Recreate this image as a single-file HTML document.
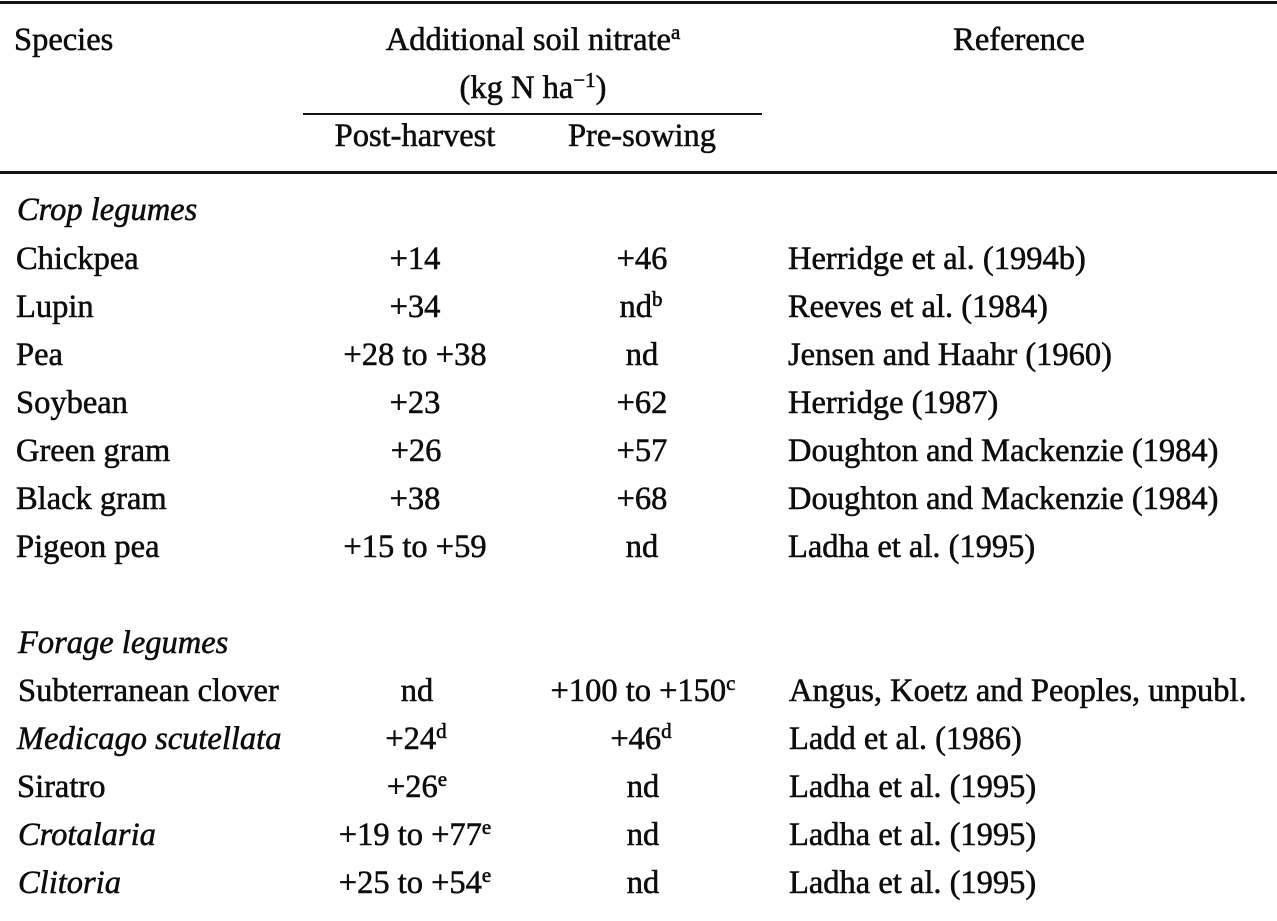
<!DOCTYPE html>
<html>
<head>
<meta charset="utf-8">
<style>
  html, body { margin:0; padding:0; background:#ffffff; }
  svg { display:block; }
  text { font-family: "Liberation Serif", "Times New Roman", serif; }
</style>
</head>
<body>
<svg width="1277" height="921" viewBox="0 0 1277 921" xmlns="http://www.w3.org/2000/svg">
  <rect x="0" y="0" width="1277" height="921" fill="#ffffff"/>
  <!-- rules -->
  <rect x="0" y="1" width="1277" height="3" fill="#141414"/>
  <rect x="303" y="113" width="459" height="2" fill="#141414"/>
  <rect x="0" y="171" width="1277" height="3" fill="#141414"/>

  <g fill="#0d0d0d" font-size="32.5" stroke="#0d0d0d" stroke-width="0.55">
    <!-- header -->
    <text x="14" y="50">Species</text>
    <text x="533" y="50" text-anchor="middle">Additional soil nitrate<tspan font-size="21" dy="-11">a</tspan></text>
    <text x="533" y="98" text-anchor="middle">(kg N ha<tspan font-size="21" dy="-11">−1</tspan><tspan dy="11">)</tspan></text>
    <text x="1019" y="50" text-anchor="middle">Reference</text>
    <text x="415" y="146" text-anchor="middle">Post-harvest</text>
    <text x="642" y="146" text-anchor="middle">Pre-sowing</text>

    <!-- Crop legumes -->
    <text x="17" y="220" font-style="italic">Crop legumes</text>

    <text x="16" y="269">Chickpea</text>
    <text x="415" y="269" text-anchor="middle">+14</text>
    <text x="642" y="269" text-anchor="middle">+46</text>
    <text x="788" y="269">Herridge et al. (1994b)</text>

    <text x="16" y="317">Lupin</text>
    <text x="415" y="317" text-anchor="middle">+34</text>
    <text x="641" y="317" text-anchor="middle">nd<tspan font-size="21" dy="-11">b</tspan></text>
    <text x="788" y="317">Reeves et al. (1984)</text>

    <text x="16" y="365">Pea</text>
    <text x="415" y="365" text-anchor="middle">+28 to +38</text>
    <text x="642" y="365" text-anchor="middle">nd</text>
    <text x="788" y="365">Jensen and Haahr (1960)</text>

    <text x="16" y="413">Soybean</text>
    <text x="415" y="413" text-anchor="middle">+23</text>
    <text x="642" y="413" text-anchor="middle">+62</text>
    <text x="788" y="413">Herridge (1987)</text>

    <text x="16" y="461">Green gram</text>
    <text x="416" y="461" text-anchor="middle">+26</text>
    <text x="642" y="461" text-anchor="middle">+57</text>
    <text x="788" y="461">Doughton and Mackenzie (1984)</text>

    <text x="16" y="509">Black gram</text>
    <text x="415" y="509" text-anchor="middle">+38</text>
    <text x="642" y="509" text-anchor="middle">+68</text>
    <text x="788" y="509">Doughton and Mackenzie (1984)</text>

    <text x="16" y="557">Pigeon pea</text>
    <text x="415" y="557" text-anchor="middle">+15 to +59</text>
    <text x="642" y="557" text-anchor="middle">nd</text>
    <text x="788" y="557">Ladha et al. (1995)</text>

    <!-- Forage legumes -->
    <text x="18" y="653" font-style="italic">Forage legumes</text>

    <text x="18" y="701">Subterranean clover</text>
    <text x="417" y="701" text-anchor="middle">nd</text>
    <text x="643" y="701" text-anchor="middle">+100 to +150<tspan font-size="21" dy="-11">c</tspan></text>
    <text x="789" y="701">Angus, Koetz and Peoples, unpubl.</text>

    <text x="17" y="749" font-style="italic">Medicago scutellata</text>
    <text x="416" y="749" text-anchor="middle">+24<tspan font-size="21" dy="-11">d</tspan></text>
    <text x="641" y="749" text-anchor="middle">+46<tspan font-size="21" dy="-11">d</tspan></text>
    <text x="789" y="749">Ladd et al. (1986)</text>

    <text x="17" y="797">Siratro</text>
    <text x="417" y="797" text-anchor="middle">+26<tspan font-size="21" dy="-11">e</tspan></text>
    <text x="643" y="797" text-anchor="middle">nd</text>
    <text x="789" y="797">Ladha et al. (1995)</text>

    <text x="18" y="845" font-style="italic">Crotalaria</text>
    <text x="415" y="845" text-anchor="middle">+19 to +77<tspan font-size="21" dy="-11">e</tspan></text>
    <text x="643" y="845" text-anchor="middle">nd</text>
    <text x="789" y="845">Ladha et al. (1995)</text>

    <text x="18" y="893" font-style="italic">Clitoria</text>
    <text x="415" y="893" text-anchor="middle">+25 to +54<tspan font-size="21" dy="-11">e</tspan></text>
    <text x="643" y="893" text-anchor="middle">nd</text>
    <text x="789" y="893">Ladha et al. (1995)</text>
  </g>
</svg>
</body>
</html>
